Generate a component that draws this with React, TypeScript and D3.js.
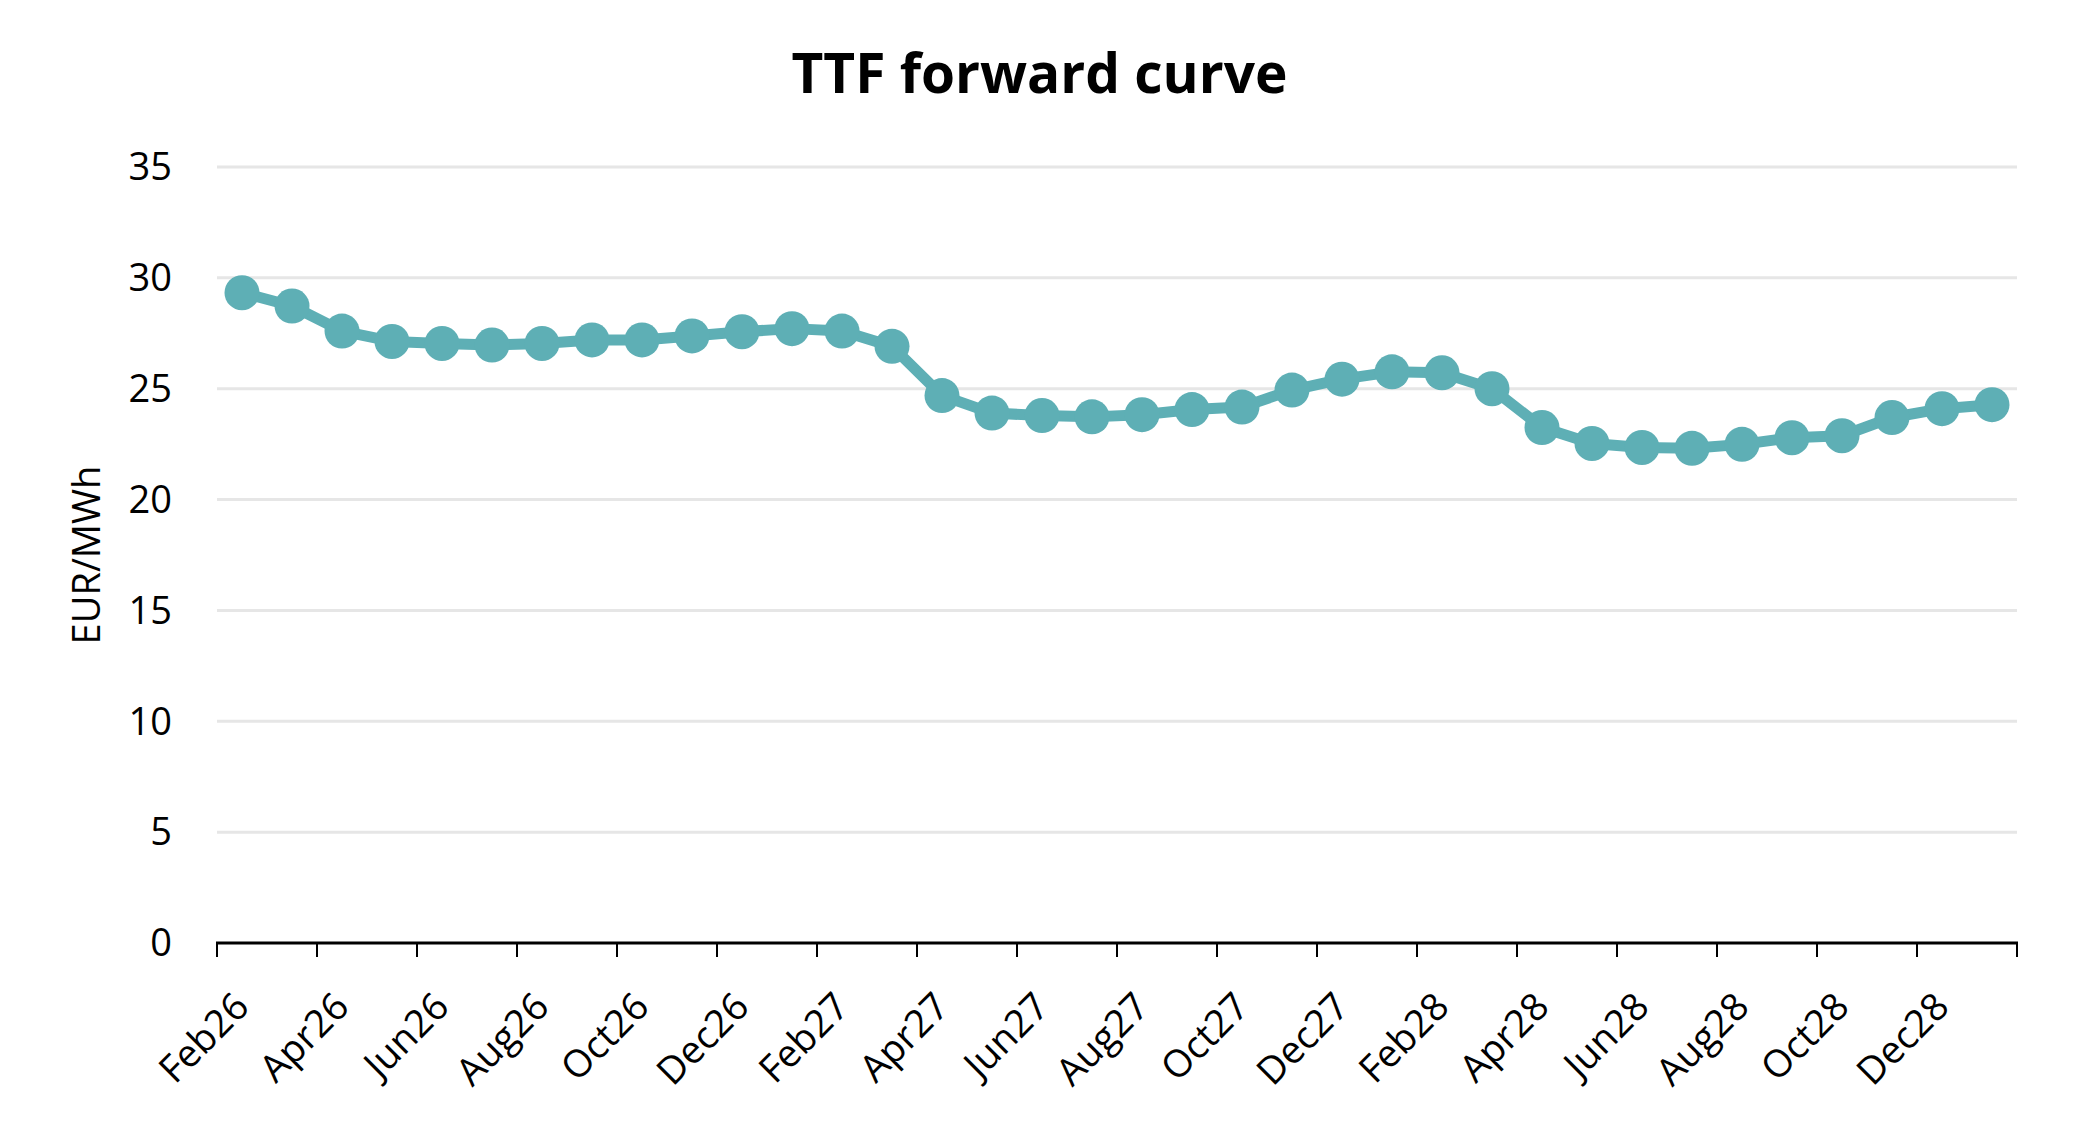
import { useEffect, useRef } from 'react'
import * as d3 from 'd3'

// contract months, Feb26 .. Jan29
const contracts = [
  'Feb26', 'Mar26', 'Apr26', 'May26', 'Jun26', 'Jul26', 'Aug26', 'Sep26', 'Oct26', 'Nov26', 'Dec26', 'Jan27',
  'Feb27', 'Mar27', 'Apr27', 'May27', 'Jun27', 'Jul27', 'Aug27', 'Sep27', 'Oct27', 'Nov27', 'Dec27', 'Jan28',
  'Feb28', 'Mar28', 'Apr28', 'May28', 'Jun28', 'Jul28', 'Aug28', 'Sep28', 'Oct28', 'Nov28', 'Dec28', 'Jan29',
]

const prices = [
  29.33, 28.73, 27.6, 27.13, 27.04, 26.97, 27.04, 27.2, 27.2, 27.38, 27.57, 27.71,
  27.6, 26.91, 24.69, 23.9, 23.79, 23.73, 23.83, 24.06, 24.17, 24.94, 25.43, 25.76,
  25.72, 25.0, 23.25, 22.53, 22.35, 22.31, 22.49, 22.79, 22.88, 23.7, 24.1, 24.28,
]

const yTicks = [0, 5, 10, 15, 20, 25, 30, 35]

const W = 2079
const H = 1127
const margin = { top: 167, right: 62, bottom: 184, left: 217 }
const color = '#5eafb5'
const font = '"Open Sans", "Noto Sans", sans-serif'

export default function App() {
  const svgRef = useRef<SVGSVGElement>(null)

  useEffect(() => {
    if (!svgRef.current) return
    const svg = d3.select(svgRef.current)
    svg.selectAll('*').remove()

    const x = d3.scaleBand<string>()
      .domain(contracts)
      .range([margin.left, W - margin.right])
      .padding(0)
    const y = d3.scaleLinear().domain([0, 35]).range([H - margin.bottom, margin.top])
    const cx = (c: string) => (x(c) as number) + x.bandwidth() / 2

    svg.append('rect').attr('width', W).attr('height', H).attr('fill', '#fff')

    // title
    svg.append('text')
      .attr('x', W / 2)
      .attr('y', 93)
      .attr('text-anchor', 'middle')
      .style('font-family', font)
      .style('font-weight', 700)
      .style('font-size', '55px')
      .text('TTF forward curve')

    // gridlines
    svg.append('g').selectAll('line')
      .data(yTicks.filter(d => d > 0))
      .enter().append('line')
      .attr('x1', margin.left)
      .attr('x2', W - margin.right)
      .attr('y1', d => y(d))
      .attr('y2', d => y(d))
      .style('stroke', '#e6e6e6')
      .style('stroke-width', 3)

    // y tick labels
    svg.append('g').selectAll('text')
      .data(yTicks)
      .enter().append('text')
      .attr('x', 172)
      .attr('y', d => y(d))
      .attr('dy', '0.35em')
      .attr('text-anchor', 'end')
      .style('font-family', font)
      .style('font-size', '38px')
      .text(d => d)

    // y axis title
    svg.append('text')
      .attr('transform', `translate(100,${(y(0) + y(35)) / 2}) rotate(-90)`)
      .attr('text-anchor', 'middle')
      .style('font-family', font)
      .style('font-size', '38px')
      .text('EUR/MWh')

    // x axis
    const baseY = y(0)
    svg.append('line')
      .attr('x1', margin.left - 1)
      .attr('x2', W - margin.right + 1)
      .attr('y1', baseY)
      .attr('y2', baseY)
      .style('stroke', '#000')
      .style('stroke-width', 3)

    const tickPos = contracts.filter((_, i) => i % 2 === 0).map(c => x(c) as number)
    tickPos.push(W - margin.right)
    svg.append('g').selectAll('line')
      .data(tickPos)
      .enter().append('line')
      .attr('x1', d => d)
      .attr('x2', d => d)
      .attr('y1', baseY)
      .attr('y2', baseY + 14)
      .style('stroke', '#000')
      .style('stroke-width', 2)

    svg.append('g').selectAll('text')
      .data(contracts.filter((_, i) => i % 2 === 0))
      .enter().append('text')
      .attr('transform', d => `translate(${cx(d) + 9},${baseY + 66}) rotate(-45)`)
      .attr('text-anchor', 'end')
      .style('font-family', font)
      .style('font-size', '38px')
      .text(d => d)

    // series
    const line = d3.line<number>()
      .x((_, i) => cx(contracts[i]))
      .y(d => y(d))

    svg.append('path')
      .datum(prices)
      .attr('d', line)
      .style('fill', 'none')
      .style('stroke', color)
      .style('stroke-width', 11)
      .style('stroke-linejoin', 'round')

    svg.append('g').selectAll('circle')
      .data(prices)
      .enter().append('circle')
      .attr('cx', (_, i) => cx(contracts[i]))
      .attr('cy', d => y(d))
      .attr('r', 17.5)
      .style('fill', color)
  }, [])

  return (
    <svg
      ref={svgRef}
      width={W}
      height={H}
      style={{ position: 'absolute', left: 0, top: 0, display: 'block' }}
    />
  )
}
